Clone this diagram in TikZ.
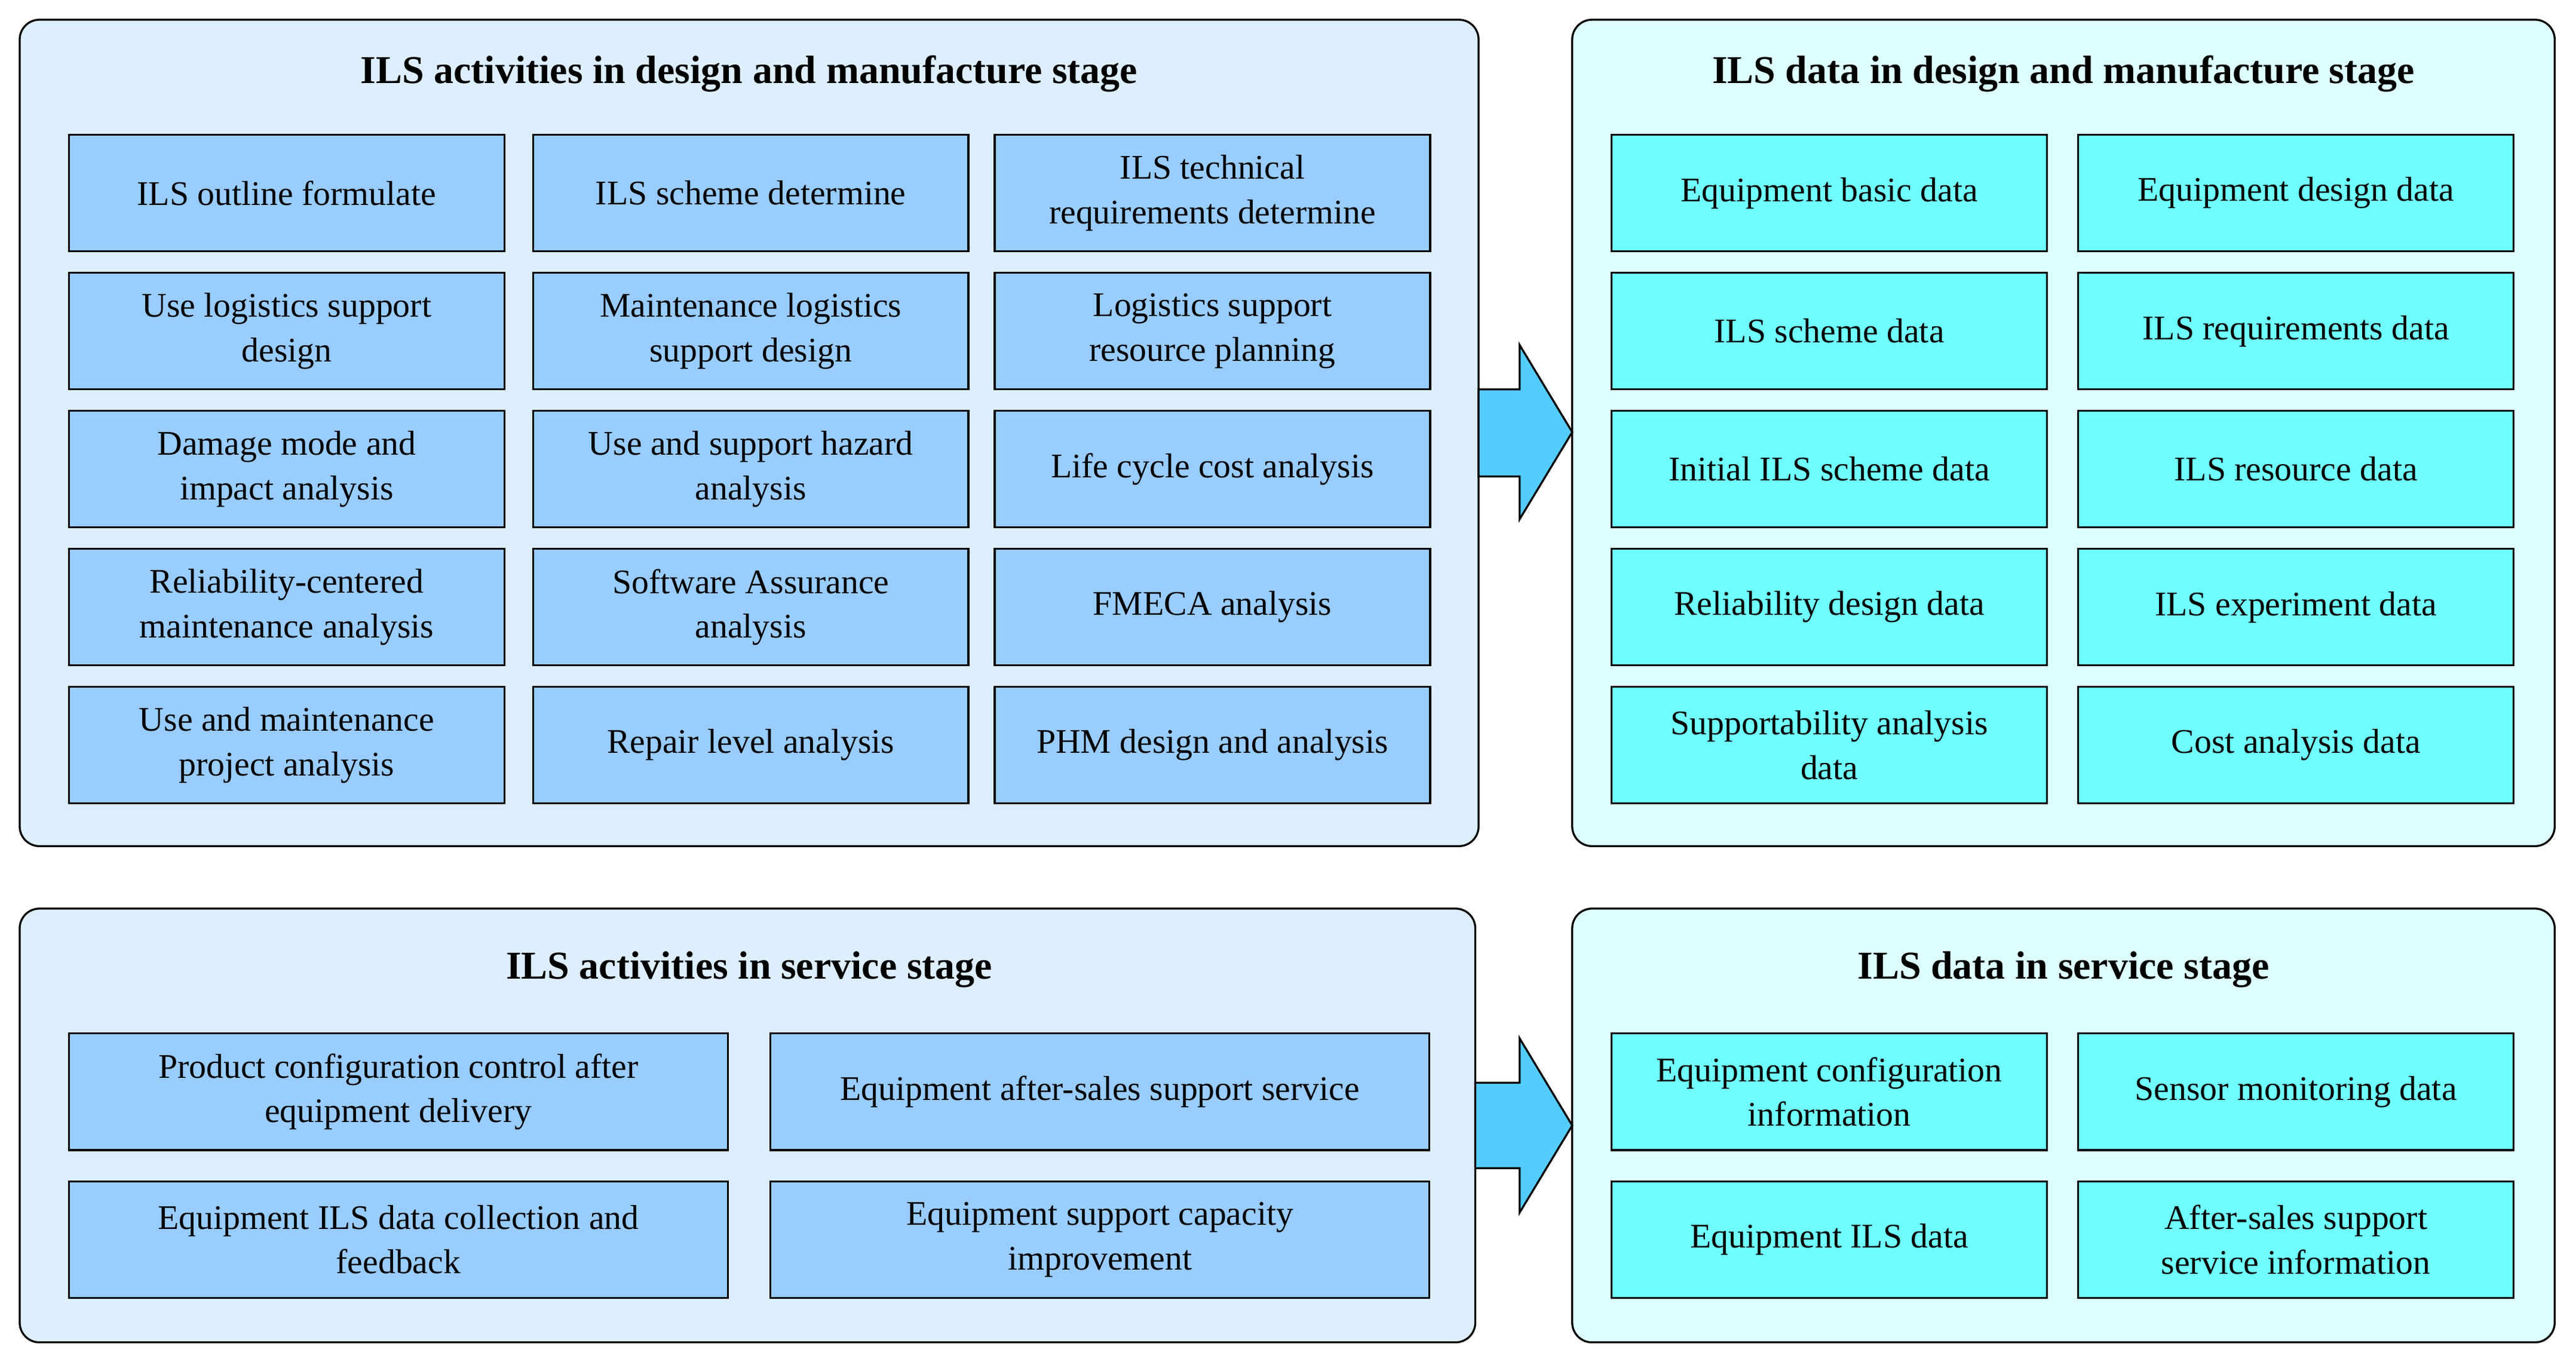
\documentclass[tikz,border=0pt]{standalone}
\usepackage{fontspec}
\setmainfont{Liberation Serif}
\usetikzlibrary{shapes.arrows}
\definecolor{panA}{HTML}{DDEEFF}
\definecolor{panB}{HTML}{DDFFFF}
\definecolor{boxA}{HTML}{99CCFF}
\definecolor{boxB}{HTML}{70FFFF}
\definecolor{arr}{HTML}{55CCFF}
\begin{document}
\begin{tikzpicture}[x=1pt,y=-1pt,
 panel/.style={draw=black,line width=1.2pt,rounded corners=12pt},
 ttl/.style={font=\fontsize{24}{26}\selectfont\bfseries},
 bx/.style={draw=black,line width=1.2pt,align=center,font=\fontsize{21}{27}\selectfont,inner sep=0pt},
 ba/.style={bx,fill=boxA},
 bb/.style={bx,fill=boxB},
 bigarrow/.style={draw=black,line width=1.2pt,fill=arr}]
\useasboundingbox (0,0) rectangle (1568,828);
\draw[panel,fill=panA] (12,12) rectangle (900,515);
\draw[panel,fill=panB] (957,12) rectangle (1555,515);
\draw[panel,fill=panA] (12,553) rectangle (898,817);
\draw[panel,fill=panB] (957,553) rectangle (1555,817);
\node[ttl] (t1) at (456,45) {ILS activities in design and manufacture stage};
\node[ttl] (t2) at (1256,45) {ILS data in design and manufacture stage};
\node[ttl] (t3) at (456,590) {ILS activities in service stage};
\node[ttl] (t4) at (1256,590) {ILS data in service stage};
\newcommand{\bxA}[4]{\node[ba,minimum width=265pt,minimum height=71pt] (#1) at (#2,#3) {#4};}
\newcommand{\bxB}[4]{\node[bb,minimum width=265pt,minimum height=71pt] (#1) at (#2,#3) {#4};}
\bxA{a11}{174.5}{117.5}{ILS outline formulate}
\bxA{a12}{457}{117.5}{ILS scheme determine}
\bxA{a13}{738}{117.5}{ILS technical\\requirements determine}
\bxA{a21}{174.5}{201.5}{Use logistics support\\design}
\bxA{a22}{457}{201.5}{Maintenance logistics\\support design}
\bxA{a23}{738}{201.5}{Logistics support\\resource planning}
\bxA{a31}{174.5}{285.5}{Damage mode and\\impact analysis}
\bxA{a32}{457}{285.5}{Use and support hazard\\analysis}
\bxA{a33}{738}{285.5}{Life cycle cost analysis}
\bxA{a41}{174.5}{369.5}{Reliability-centered\\maintenance analysis}
\bxA{a42}{457}{369.5}{Software Assurance\\analysis}
\bxA{a43}{738}{369.5}{FMECA analysis}
\bxA{a51}{174.5}{453.5}{Use and maintenance\\project analysis}
\bxA{a52}{457}{453.5}{Repair level analysis}
\bxA{a53}{738}{453.5}{PHM design and analysis}
\bxB{d11}{1113.5}{117.5}{Equipment basic data}
\bxB{d12}{1397.5}{117.5}{Equipment design data}
\bxB{d21}{1113.5}{201.5}{ILS scheme data}
\bxB{d22}{1397.5}{201.5}{ILS requirements data}
\bxB{d31}{1113.5}{285.5}{Initial ILS scheme data}
\bxB{d32}{1397.5}{285.5}{ILS resource data}
\bxB{d41}{1113.5}{369.5}{Reliability design data}
\bxB{d42}{1397.5}{369.5}{ILS experiment data}
\bxB{d51}{1113.5}{453.5}{Supportability analysis\\data}
\bxB{d52}{1397.5}{453.5}{Cost analysis data}
\node[ba,minimum width=401pt,minimum height=71pt] (s11) at (242.5,664.5) {Product configuration control after\\equipment delivery};
\node[ba,minimum width=401pt,minimum height=71pt] (s12) at (669.5,664.5) {Equipment after-sales support service};
\node[ba,minimum width=401pt,minimum height=71pt] (s21) at (242.5,754.5) {Equipment ILS data collection and\\feedback};
\node[ba,minimum width=401pt,minimum height=71pt] (s22) at (669.5,754.5) {Equipment support capacity\\improvement};
\bxB{e11}{1113.5}{664.5}{Equipment configuration\\information}
\bxB{e12}{1397.5}{664.5}{Sensor monitoring data}
\bxB{e21}{1113.5}{754.5}{Equipment ILS data}
\bxB{e22}{1397.5}{754.5}{After-sales support\\service information}
\draw[bigarrow] (900,237) -- (925,237) -- (925,210) -- (957,263) -- (925,316) -- (925,290) -- (900,290) -- cycle;
\draw[bigarrow] (898,659) -- (925,659) -- (925,632) -- (957,685) -- (925,738) -- (925,711) -- (898,711) -- cycle;
\end{tikzpicture}
\end{document}
